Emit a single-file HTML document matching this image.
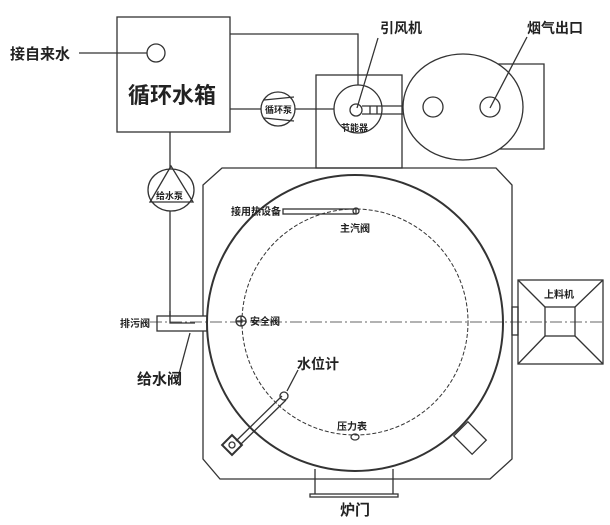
<!DOCTYPE html>
<html><head><meta charset="utf-8"><style>
html,body{margin:0;padding:0;background:#fff;}
svg{display:block;}
text{font-family:"Liberation Sans","Noto Sans CJK SC",sans-serif;fill:#222;font-weight:bold;}
</style></head><body>
<svg width="610" height="525" viewBox="0 0 610 525" xmlns="http://www.w3.org/2000/svg">
<g fill="none" stroke="#333" stroke-width="1.3">
<!-- tank -->
<rect x="117" y="17" width="113" height="115"/>
<circle cx="156" cy="53" r="9"/>
<line x1="79" y1="53" x2="147" y2="53"/>
<polyline points="230,34 358,34 358,85"/>
<line x1="230" y1="109" x2="261" y2="109"/>
<line x1="295" y1="109" x2="334" y2="109"/>
<circle cx="278" cy="109" r="17"/>
<line x1="264" y1="100" x2="294" y2="97"/>
<line x1="264" y1="118" x2="294" y2="121"/>
<!-- fan box -->
<rect x="316" y="75" width="86" height="93"/>
<circle cx="358" cy="109" r="24" fill="#fff"/>
<circle cx="356" cy="110" r="6"/>
<line x1="362" y1="106" x2="424" y2="106"/>
<line x1="362" y1="114" x2="424" y2="114"/>
<line x1="370" y1="106" x2="370" y2="114"/>
<line x1="377" y1="106" x2="377" y2="114"/>
<!-- flue -->
<polyline points="470,64 544,64 544,149 470,149"/>
<ellipse cx="463" cy="107" rx="60" ry="53" fill="#fff"/>
<circle cx="433" cy="107" r="10"/>
<circle cx="490" cy="107" r="10"/>
<!-- feed pump -->
<line x1="170" y1="132" x2="170" y2="169"/>
<ellipse cx="171" cy="190" rx="23" ry="21"/>
<polygon points="171,166 150,202 193,202"/>
<line x1="170" y1="211" x2="170" y2="323"/>
<line x1="170" y1="323" x2="195" y2="323"/>
<!-- boiler -->
<polygon points="222,168 496,168 512,185 512,459 490,479 220,479 203,459 203,185"/>
<rect x="157" y="316" width="50" height="15" fill="#fff"/>
<polyline points="170,311 170,323 195,323"/>
<circle cx="355" cy="323" r="148" stroke-width="2" fill="#fff"/>
<circle cx="355" cy="322" r="113" stroke-dasharray="4,2" stroke-width="1"/>
<line x1="150" y1="322" x2="605" y2="322" stroke-dasharray="12,3,2,3" stroke-width="0.8"/>
<line x1="315" y1="469" x2="315" y2="494"/>
<line x1="393" y1="469" x2="393" y2="494"/>
<rect x="310" y="494" width="88" height="3"/>
<!-- hot-use pipe -->
<rect x="283" y="209" width="73" height="5"/>
<circle cx="356" cy="211" r="3"/>
<circle cx="241" cy="321" r="5"/>
<line x1="236" y1="321" x2="246" y2="321"/>
<line x1="241" y1="316" x2="241" y2="326"/>
<!-- water gauge -->
<line x1="236" y1="441" x2="282" y2="396"/>
<line x1="240" y1="445" x2="286" y2="400"/>
<circle cx="284" cy="396" r="4"/>
<rect x="225" y="438" width="14" height="14" transform="rotate(45 232 445)" stroke-width="2"/>
<circle cx="232" cy="445" r="3"/>
<line x1="287" y1="391" x2="298" y2="370"/>
<ellipse cx="355" cy="437" rx="4" ry="3"/>
<rect x="457" y="428" width="26" height="20" transform="rotate(45 470 438)"/>
<!-- feeder -->
<rect x="512" y="307" width="6" height="28"/>
<rect x="518" y="280" width="85" height="84"/>
<rect x="545" y="307" width="30" height="29"/>
<line x1="518" y1="280" x2="545" y2="307"/><line x1="603" y1="280" x2="575" y2="307"/>
<line x1="518" y1="364" x2="545" y2="336"/><line x1="603" y1="364" x2="575" y2="336"/>
<!-- leaders -->
<line x1="378" y1="38" x2="357" y2="108"/>
<line x1="527" y1="37" x2="490" y2="108"/>
<line x1="190" y1="333" x2="176" y2="385"/>
</g>
<text x="10" y="59" font-size="15">接自来水</text>
<text x="128" y="103" font-size="22">循环水箱</text>
<text x="380" y="33" font-size="14">引风机</text>
<text x="527" y="33" font-size="14">烟气出口</text>
<text x="265" y="113" font-size="9">循环泵</text>
<text x="341" y="131" font-size="9">节能器</text>
<text x="156" y="199" font-size="9">给水泵</text>
<text x="231" y="215" font-size="10">接用热设备</text>
<text x="340" y="232" font-size="10">主汽阀</text>
<text x="250" y="325" font-size="10">安全阀</text>
<text x="120" y="327" font-size="10">排污阀</text>
<text x="137" y="384" font-size="15">给水阀</text>
<text x="297" y="369" font-size="14">水位计</text>
<text x="337" y="430" font-size="10">压力表</text>
<text x="544" y="298" font-size="10">上料机</text>
<text x="340" y="515" font-size="15">炉门</text>
</svg>
</body></html>
